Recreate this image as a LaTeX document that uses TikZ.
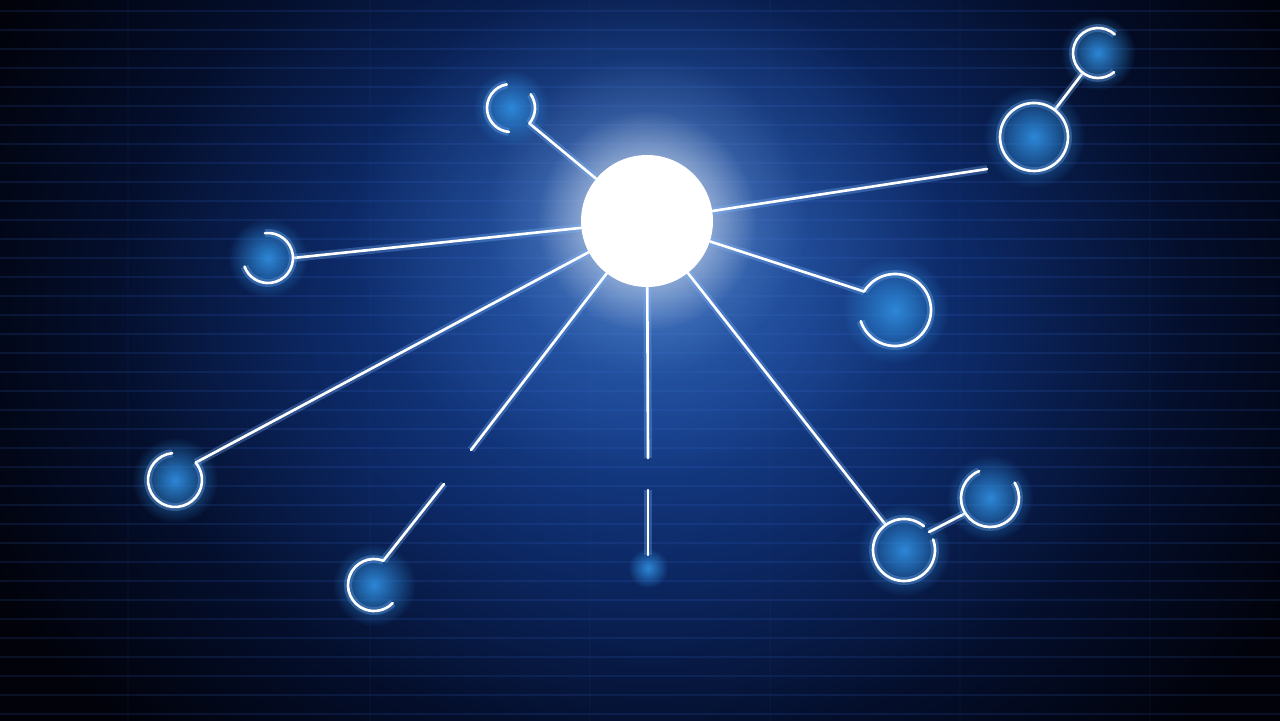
\documentclass[tikz,border=0pt]{standalone}
\usetikzlibrary{fadings}
\definecolor{bgD}{RGB}{1,2,10}
\definecolor{bgC}{RGB}{4,15,45}
\definecolor{bgB}{RGB}{12,40,100}
\definecolor{bgA2}{RGB}{22,62,138}
\definecolor{bgA}{RGB}{30,78,158}
\definecolor{haze}{RGB}{70,125,205}
\definecolor{nodeblue}{RGB}{45,135,215}
\definecolor{lineglow}{RGB}{120,180,255}
\definecolor{gridblue}{RGB}{60,110,220}
\pgfdeclareradialshading{bgshade}{\pgfpoint{0bp}{0bp}}{color(0bp)=(bgA); color(5bp)=(bgA2); color(11bp)=(bgB); color(18bp)=(bgC); color(25bp)=(bgD); color(50bp)=(bgD)}
\tikzfading[name=glowfade, inner color=transparent!0, outer color=transparent!100]
\tikzset{
  conn/.style={draw=white, line width=1.5pt, line cap=round,
    preaction={draw=lineglow, line width=4.5pt, opacity=0.3}},
  ring/.style={conn},
  gridline/.style={draw=gridblue, line width=0.6pt, opacity=0.14},
  vgrid/.style={draw=gridblue, line width=0.6pt, opacity=0.04},
}
\newcommand\nglow[4]{\fill[#4, path fading=glowfade] (#1) circle (#2*#3);}
\begin{document}
\begin{tikzpicture}[x=0.02cm,y=0.02cm]
\useasboundingbox (0,0) rectangle (1280,720);
% background
\fill[bgD] (-10,-10) rectangle (1290,730);
\begin{scope}
\clip (-10,-10) rectangle (1290,730);
\shade[shading=bgshade] (650,410) ellipse [x radius=740, y radius=590];
\foreach \y in {6,25,...,720} \draw[gridline] (-10,\y) -- (1290,\y);
\foreach \x in {128,370,590,770,960,1150} \draw[vgrid] (\x,-10) -- (\x,730);
\end{scope}

% coordinates
\coordinate (n1) at (511,612);
\coordinate (a1) at (529.4,596.6);
\coordinate (n2) at (1034,583);
\coordinate (n2b) at (1098,667);
\coordinate (a2) at (987,551);
\coordinate (a2b) at (1054.6,610);
\coordinate (a2c) at (1082.8,647);
\coordinate (n3) at (268,462);
\coordinate (a3) at (293,462);
\coordinate (n4) at (175,240);
\coordinate (a4) at (195.7,257.4);
\coordinate (n5) at (374,135);
\coordinate (a5) at (383.3,159.3);
\coordinate (g5a) at (471,270);
\coordinate (g5b) at (444,236);
\coordinate (g6a) at (648,262);
\coordinate (g6b) at (648,230);
\coordinate (e6) at (648,165);
\coordinate (n6) at (648,152);
\coordinate (n7) at (904,170);
\coordinate (a7) at (885.8,195.1);
\coordinate (n7b) at (990,222);
\coordinate (a7b) at (929,188);
\coordinate (a7c) at (964,206);
\coordinate (n8) at (895,410);
\coordinate (a8) at (864.1,428.5);
\coordinate (hc) at (647,499);

% glows
\fill[haze, path fading=glowfade, opacity=0.5] (647,490) ellipse [x radius=300, y radius=250];
\fill[haze!70!white, path fading=glowfade, opacity=0.6] (647,505) circle (160);
\fill[white, path fading=glowfade, opacity=0.85] (647,499) circle (110);
\nglow{n1}{24}{1.6}{nodeblue}
\nglow{n2}{34}{1.5}{nodeblue}
\nglow{n2b}{25}{1.5}{nodeblue}
\nglow{n3}{25}{1.6}{nodeblue}
\nglow{n4}{27}{1.6}{nodeblue}
\nglow{n5}{26}{1.6}{nodeblue}
\nglow{n6}{20}{1.0}{nodeblue}
\nglow{n7}{31}{1.5}{nodeblue}
\nglow{n7b}{29}{1.5}{nodeblue}
\nglow{n8}{36}{1.5}{nodeblue}

% hub
\node[circle, fill=white, minimum size=2.64cm, inner sep=0pt] (hub) at (hc) {};

% connectors
\draw[conn] (hub) -- (a1);
\draw[conn] (hub) -- (a2);
\draw[conn] (a2b) -- (a2c);
\draw[conn] (hub) -- (a3);
\draw[conn] (hub) -- (a4);
\draw[conn] (hub) -- (g5a);
\draw[conn] (g5b) -- (a5);
\draw[conn] (hub) -- (g6a);
\draw[conn] (g6b) -- (e6);
\draw[conn] (hub) -- (a7);
\draw[conn] (a7b) -- (a7c);
\draw[conn] (hub) -- (a8);

% rings
\draw[ring] (n1) ++(100:24) arc[start angle=100, end angle=265, radius=24];
\draw[ring] (n1) ++(-40:24) arc[start angle=-40, end angle=35, radius=24];
\draw[ring] (n2) circle (34);
\draw[ring] (n2b) ++(48:25) arc[start angle=48, end angle=310, radius=25];
\draw[ring] (n3) ++(97:25) arc[start angle=97, end angle=-160, radius=25];
\draw[ring] (n4) ++(96:27) arc[start angle=96, end angle=400, radius=27];
\draw[ring] (n5) ++(69:26) arc[start angle=69, end angle=316, radius=26];
\draw[ring] (n7) ++(50:31) arc[start angle=50, end angle=380, radius=31];
\draw[ring] (n7b) ++(112:29) arc[start angle=112, end angle=392, radius=29];
\draw[ring] (n8) ++(149:36) arc[start angle=149, end angle=-162, radius=36];
\end{tikzpicture}
\end{document}
